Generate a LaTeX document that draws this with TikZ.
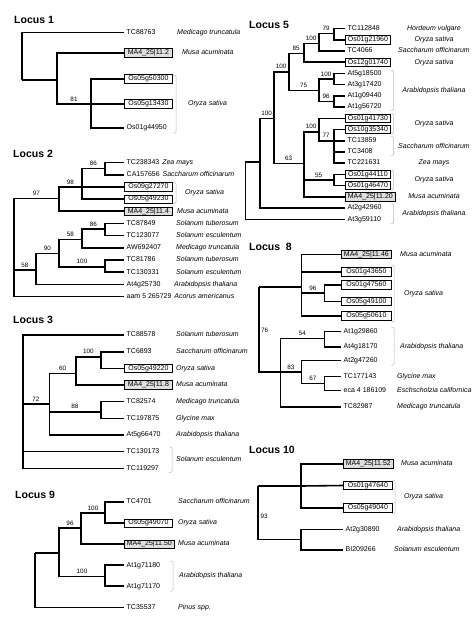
\documentclass[tikz,border=0pt]{standalone}
\usepackage{fontspec}
\setmainfont{Liberation Sans}
\usetikzlibrary{positioning}

\tikzset{
  branch/.style={line width=1.6pt, black},
  leaf/.style={anchor=west, inner xsep=2.5pt, inner ysep=1pt, text height=5pt, text depth=1.4pt, font=\fontsize{7}{8}\selectfont},
  osbox/.style={leaf, draw, line width=0.8pt, minimum width=48pt},
  mabox/.style={osbox, fill=gray!25},
  species/.style={anchor=west, inner sep=0pt, text height=5pt, text depth=1.4pt, font=\fontsize{7}{8}\selectfont\itshape},
  bs/.style={inner sep=1pt, font=\fontsize{6.3}{7}\selectfont},
  title/.style={anchor=west, inner sep=0pt, font=\fontsize{10.5}{12}\selectfont\bfseries},
  bracket/.style={draw=gray!55, line width=0.5pt, rounded corners=1.2pt},
}

\begin{document}
\begin{tikzpicture}[x=1pt,y=-1pt]
\useasboundingbox (0,0) rectangle (474,632);

% Locus 1
\node[title] (t1) at (14,20) {Locus 1};
\node[leaf] (l1a) at (124,32.5) {TC88763};
\node[mabox] (l1b) at (124,53) {MA4\_25|11.2};
\node[osbox] (l1c) at (124,79) {Os05g50300};
\node[osbox] (l1d) at (124,104) {Os05g13430};
\node[leaf] (l1e) at (124,128) {Os01g44950};
\node[species] (s1a) at (177,32.5) {Medicago truncatula};
\node[species] (s1b) at (182,53) {Musa acuminata};
\node[species] (s1c) at (188,104) {Oryza sativa};
\draw[bracket] (173,75) -| (176,133) -- (173,133);
\coordinate (r1) at (22,80);
\coordinate (n1a) at (57,80);
\coordinate (n1b) at (91,104);
\draw[branch] (r1) |- (l1a.west);
\draw[branch] (r1) -- (n1a);
\draw[branch] (n1a) |- (l1b.west);
\draw[branch] (n1a) |- node[bs,pos=0.75,above=1pt]{81} (n1b);
\draw[branch] (n1b) |- (l1c.west);
\draw[branch] (n1b) -- (l1d.west);
\draw[branch] (n1b) |- (l1e.west);

% Locus 2
\node[title] (t2) at (13,154) {Locus 2};
\node[leaf] (l2a) at (124,162.5) {TC238343};
\node[leaf] (l2b) at (124,174.7) {CA157656};
\node[osbox] (l2c) at (124,186.9) {Os09g27270};
\node[osbox] (l2d) at (124,199.1) {Os05g49230};
\node[mabox] (l2e) at (124,211.2) {MA4\_25|11.4};
\node[leaf] (l2f) at (124,223.4) {TC87849};
\node[leaf] (l2g) at (124,235.6) {TC123077};
\node[leaf] (l2h) at (124,247.8) {AW692407};
\node[leaf] (l2i) at (124,260) {TC81786};
\node[leaf] (l2j) at (124,272.2) {TC130331};
\node[leaf] (l2k) at (124,284.3) {At4g25730};
\node[leaf] (l2l) at (124,296.5) {aam 5 265729};
\node[species, right=0pt of l2a] (s2a) {Zea mays};
\node[species, right=0pt of l2b] (s2b) {Saccharum officinarum};
\node[species] (s2c) at (185,193) {Oryza sativa};
\node[species] (s2d) at (177,211.2) {Musa acuminata};
\node[species] (s2e) at (176,223.4) {Solanum tuberosum};
\node[species] (s2f) at (176,235.6) {Solanum esculentum};
\node[species] (s2g) at (176,247.8) {Medicago truncatula};
\node[species] (s2h) at (176,260) {Solanum tuberosum};
\node[species] (s2i) at (176,272.2) {Solanum esculentum};
\node[species] (s2j) at (174,284.3) {Arabidopsis thaliana};
\node[species, right=0pt of l2l] (s2k) {Acorus americanus};
\draw[bracket] (173,182.5) -| (176,203.5) -- (173,203.5);
\coordinate (r2) at (14,198.3);
\coordinate (n2a) at (59,198.3);
\coordinate (n2b) at (81.7,186.9);
\coordinate (n2c) at (105,168.3);
\coordinate (n2e) at (36,270);
\coordinate (n2f) at (59,253.3);
\coordinate (n2g) at (81.7,239.3);
\coordinate (n2h) at (105,229);
\coordinate (n2i) at (105,266.7);
\draw[branch] (r2) |- node[bs,pos=0.75,above=1pt]{97} (n2a);
\draw[branch] (r2) |- node[bs,pos=0.75,above=1pt]{58} (n2e);
\draw[branch] (r2) |- (l2l.west);
\draw[branch] (n2a) |- node[bs,pos=0.75,above=1pt]{98} (n2b);
\draw[branch] (n2a) |- (l2e.west);
\draw[branch] (n2b) |- node[bs,pos=0.75,above=1pt]{86} (n2c);
\draw[branch] (n2b) |- (l2c.west);
\draw[branch] (n2b) |- (l2d.west);
\draw[branch] (n2c) |- (l2a.west);
\draw[branch] (n2c) |- (l2b.west);
\draw[branch] (n2e) |- node[bs,pos=0.75,above=1pt]{90} (n2f);
\draw[branch] (n2e) |- (l2k.west);
\draw[branch] (n2f) |- node[bs,pos=0.75,above=1pt]{58} (n2g);
\draw[branch] (n2f) |- node[bs,pos=0.75,above=1pt]{100} (n2i);
\draw[branch] (n2g) |- node[bs,pos=0.75,above=1pt]{86} (n2h);
\draw[branch] (n2g) |- (l2h.west);
\draw[branch] (n2h) |- (l2f.west);
\draw[branch] (n2h) |- (l2g.west);
\draw[branch] (n2i) |- (l2i.west);
\draw[branch] (n2i) |- (l2j.west);

% Locus 3
\node[title] (t3) at (13,320) {Locus 3};
\node[leaf] (l3a) at (124,335) {TC88578};
\node[leaf] (l3b) at (124,351.7) {TC6893};
\node[osbox] (l3c) at (124,368.3) {Os05g49220};
\node[mabox] (l3d) at (124,385) {MA4\_25|11.8};
\node[leaf] (l3e) at (124,401.6) {TC82574};
\node[leaf] (l3f) at (124,418.3) {TC197875};
\node[leaf] (l3g) at (124,435) {At5g66470};
\node[leaf] (l3h) at (124,451.6) {TC130173};
\node[leaf] (l3i) at (124,468.3) {TC119297};
\node[species] (s3a) at (176,335) {Solanum tuberosum};
\node[species] (s3b) at (176,351.7) {Saccharum officinarum};
\node[species] (s3c) at (176,368.3) {Oryza sativa};
\node[species] (s3d) at (176,385) {Musa acuminata};
\node[species] (s3e) at (176,401.6) {Medicago truncatula};
\node[species] (s3f) at (176,418.3) {Glycine max};
\node[species] (s3g) at (176,435) {Arabidopsis thaliana};
\node[species] (s3h) at (176,460) {Solanum esculentum};
\draw[bracket] (169,447) -| (172,472.5) -- (169,472.5);
\coordinate (r3) at (22.7,404);
\coordinate (n3a) at (49.3,404);
\coordinate (n3b) at (76,373.3);
\coordinate (n3c) at (100.7,356.7);
\coordinate (n3d) at (100.7,411.7);
\draw[branch] (r3) |- (l3a.west);
\draw[branch] (r3) -- node[bs,midway,above=1pt]{72} (n3a);
\draw[branch] (r3) |- (l3h.west);
\draw[branch] (r3) |- (l3i.west);
\draw[branch] (n3a) |- node[bs,pos=0.75,above=1pt]{60} (n3b);
\draw[branch] (n3a) |- node[bs,pos=0.75,above=1pt]{88} (n3d);
\draw[branch] (n3a) |- (l3g.west);
\draw[branch] (n3b) |- node[bs,pos=0.75,above=1pt]{100} (n3c);
\draw[branch] (n3b) |- (l3d.west);
\draw[branch] (n3c) |- (l3b.west);
\draw[branch] (n3c) |- (l3c.west);
\draw[branch] (n3d) |- (l3e.west);
\draw[branch] (n3d) |- (l3f.west);

% Locus 9
\node[title] (t9) at (15,494.7) {Locus 9};
\node[leaf] (l9a) at (124,502) {TC4701};
\node[osbox] (l9b) at (124,523.1) {Os05g49070};
\node[mabox] (l9c) at (124,544.1) {MA4\_25|11.50};
\node[leaf] (l9d) at (124,565.2) {At1g71180};
\node[leaf] (l9e) at (124,586.2) {At1g71170};
\node[leaf] (l9f) at (124,607.3) {TC35537};
\node[species] (s9a) at (178,502) {Saccharum officinarum};
\node[species] (s9b) at (178,523.1) {Oryza sativa};
\node[species] (s9c) at (178,544.1) {Musa acuminata};
\node[species] (s9d) at (179,575.7) {Arabidopsis thaliana};
\node[species] (s9e) at (178,607.3) {Pinus spp.};
\draw[bracket] (170,561) -| (173,591) -- (170,591);
\coordinate (r9) at (35,553);
\coordinate (n9a) at (59,553);
\coordinate (n9b) at (81,528);
\coordinate (n9c) at (105,513);
\coordinate (n9d) at (105,576.3);
\draw[branch] (r9) -- (n9a);
\draw[branch] (r9) |- (l9f.west);
\draw[branch] (n9a) |- node[bs,pos=0.75,above=1pt]{96} (n9b);
\draw[branch] (n9a) |- node[bs,pos=0.75,above=1pt]{100} (n9d);
\draw[branch] (n9b) |- node[bs,pos=0.75,above=1pt]{100} (n9c);
\draw[branch] (n9b) |- (l9c.west);
\draw[branch] (n9c) |- (l9a.west);
\draw[branch] (n9c) |- (l9b.west);
\draw[branch] (n9d) |- (l9d.west);
\draw[branch] (n9d) |- (l9e.west);

% Locus 5
\node[title] (t5) at (249,25) {Locus 5};
\node[leaf] (l5a) at (345,28.5) {TC112848};
\node[osbox, minimum width=45pt] (l5b) at (345,39.7) {Os01g21960};
\node[leaf] (l5c) at (345,50.9) {TC4066};
\node[osbox, minimum width=45pt] (l5d) at (345,62.2) {Os12g01740};
\node[leaf] (l5e) at (345,73.4) {At5g18500};
\node[leaf] (l5f) at (345,84.6) {At3g17420};
\node[leaf] (l5g) at (345,95.8) {At1g09440};
\node[leaf] (l5h) at (345,107) {At1g56720};
\node[osbox, minimum width=45pt] (l5i) at (345,118.3) {Os01g41730};
\node[osbox, minimum width=45pt] (l5j) at (345,129.5) {Os10g35340};
\node[leaf] (l5k) at (345,140.7) {TC13859};
\node[leaf] (l5l) at (345,151.9) {TC3408};
\node[leaf] (l5m) at (345,163.1) {TC221631};
\node[osbox, minimum width=45pt] (l5n) at (345,174.4) {Os01g44110};
\node[osbox, minimum width=45pt] (l5o) at (345,185.6) {Os01g46470};
\node[mabox, minimum width=45pt] (l5p) at (345,196.8) {MA4\_25|11.20};
\node[leaf] (l5q) at (345,208) {At2g42960};
\node[leaf] (l5r) at (345,219.3) {At3g59110};
\node[species, anchor=center] (s5a) at (434,28.5) {Hordeum vulgare};
\node[species, anchor=center] (s5b) at (434,39.7) {Oryza sativa};
\node[species, anchor=center] (s5c) at (434,50.9) {Saccharum officinarum};
\node[species, anchor=center] (s5d) at (434,62.2) {Oryza sativa};
\node[species, anchor=center] (s5e) at (434,90.2) {Arabidopsis thaliana};
\node[species, anchor=center] (s5f) at (434,123.9) {Oryza sativa};
\node[species, anchor=center] (s5g) at (434,146.3) {Saccharum officinarum};
\node[species, anchor=center] (s5h) at (434,163.1) {Zea mays};
\node[species, anchor=center] (s5i) at (434,180) {Oryza sativa};
\node[species, anchor=center] (s5j) at (434,196.8) {Musa acuminata};
\node[species, anchor=center] (s5k) at (434,213.7) {Arabidopsis thaliana};
\draw[bracket] (390.5,70) -| (393.5,110.5) -- (390.5,110.5);
\draw[bracket] (390.5,113.5) -| (393.5,134) -- (390.5,134);
\draw[bracket] (390.5,136.5) -| (393.5,155.5) -- (390.5,155.5);
\draw[bracket] (390.5,170) -| (393.5,190) -- (390.5,190);
\draw[bracket] (390.5,204) -| (393.5,223.5) -- (390.5,223.5);
\coordinate (r5) at (245.3,161.7);
\coordinate (n5a) at (259.7,161.7);
\coordinate (n5b) at (273.7,118.3);
\coordinate (n5c) at (288.7,71.7);
\coordinate (n5d) at (303.7,53.3);
\coordinate (n5e) at (318.7,43.3);
\coordinate (n5f) at (333.7,33.3);
\coordinate (n5g) at (318.7,90.3);
\coordinate (n5h) at (333.7,79);
\coordinate (n5m) at (333.7,101.4);
\coordinate (n5i) at (303.7,163.3);
\coordinate (n5j) at (318.7,131.7);
\coordinate (n5k) at (333.7,140.7);
\coordinate (n5l) at (333.7,180);
\draw[branch] (r5) -- (n5a);
\draw[branch] (r5) |- (l5r.west);
\draw[branch] (n5a) |- node[bs,pos=0.75,above=1pt]{100} (n5b);
\draw[branch] (n5a) |- (l5q.west);
\draw[branch] (n5b) |- node[bs,pos=0.75,above=1pt]{100} (n5c);
\draw[branch] (n5b) |- node[bs,pos=0.75,above=1pt]{63} (n5i);
\draw[branch] (n5c) |- node[bs,pos=0.75,above=1pt]{85} (n5d);
\draw[branch] (n5c) |- node[bs,pos=0.75,above=1pt]{75} (n5g);
\draw[branch] (n5d) |- node[bs,pos=0.75,above=1pt]{100} (n5e);
\draw[branch] (n5d) |- (l5d.west);
\draw[branch] (n5e) |- node[bs,pos=0.75,above=1pt]{79} (n5f);
\draw[branch] (n5e) |- (l5c.west);
\draw[branch] (n5f) |- (l5a.west);
\draw[branch] (n5f) |- (l5b.west);
\draw[branch] (n5g) |- node[bs,pos=0.75,above=1pt]{100} (n5h);
\draw[branch] (n5g) |- node[bs,pos=0.75,above=1pt]{96} (n5m);
\draw[branch] (n5h) |- (l5e.west);
\draw[branch] (n5h) |- (l5f.west);
\draw[branch] (n5m) |- (l5g.west);
\draw[branch] (n5m) |- (l5h.west);
\draw[branch] (n5i) |- node[bs,pos=0.75,above=1pt]{100} (n5j);
\draw[branch] (n5i) |- node[bs,pos=0.75,above=1pt]{55} (n5l);
\draw[branch] (n5i) |- (l5p.west);
\draw[branch] (n5j) |- (l5i.west);
\draw[branch] (n5j) |- node[bs,pos=0.75,above=1pt]{77} (n5k);
\draw[branch] (n5k) |- (l5j.west);
\draw[branch] (n5k) |- (l5k.west);
\draw[branch] (n5k) |- (l5l.west);
\draw[branch] (n5k) |- (l5m.west);
\draw[branch] (n5l) |- (l5n.west);
\draw[branch] (n5l) |- (l5o.west);

% Locus 8
\node[title] (t8) at (249,246.5) {Locus\ \ 8};
\node[mabox, minimum width=50pt] (l8a) at (341,254.5) {MA4\_25|11.46};
\node[osbox, minimum width=50pt] (l8b) at (341,271.7) {Os01g43650};
\node[osbox, minimum width=50pt] (l8c) at (341,285) {Os01g47560};
\node[osbox, minimum width=50pt] (l8d) at (341,301.3) {Os05g49100};
\node[osbox, minimum width=50pt] (l8e) at (341,316) {Os05g50610};
\node[leaf] (l8f) at (341,331.5) {At1g29860};
\node[leaf] (l8g) at (341,346.7) {At4g18170};
\node[leaf] (l8h) at (341,360.5) {At2g47260};
\node[leaf] (l8i) at (341,376.5) {TC177143};
\node[leaf] (l8j) at (341,390.5) {eca 4 186109};
\node[leaf] (l8k) at (341,406.7) {TC82987};
\node[species] (s8a) at (400,254.5) {Musa acuminata};
\node[species] (s8b) at (404,293.3) {Oryza sativa};
\node[species] (s8c) at (400,346.7) {Arabidopsis thaliana};
\node[species] (s8d) at (397,376.5) {Glycine max};
\node[species] (s8e) at (397,390.5) {Eschscholzia californica};
\node[species] (s8f) at (397,406.7) {Medicago truncatula};
\draw[bracket] (391,265) -| (394,321.7) -- (391,321.7);
\draw[bracket] (391,327) -| (394,365) -- (391,365);
\coordinate (r8) at (258.7,286.7);
\coordinate (n8a) at (301.3,286.7);
\coordinate (n8b) at (280.3,372);
\coordinate (n8c) at (324.3,293);
\coordinate (n8d) at (324.3,338.3);
\coordinate (n8e) at (301.3,372);
\coordinate (n8f) at (324.3,383.3);
\draw[branch] (r8) -- (n8a);
\draw[branch] (r8) |- (n8b);
\node[bs, anchor=west] (bs8) at (260,330) {76};
\draw[branch] (n8a) |- (l8a.west);
\draw[branch] (n8a) |- (l8b.west);
\draw[branch] (n8a) |- node[bs,pos=0.75,above=1pt]{96} (n8c);
\draw[branch] (n8a) |- (l8e.west);
\draw[branch] (n8c) |- (l8c.west);
\draw[branch] (n8c) |- (l8d.west);
\draw[branch] (n8b) |- node[bs,pos=0.75,above=1pt]{54} (n8d);
\draw[branch] (n8b) -- node[bs,midway,above=1pt]{83} (n8e);
\draw[branch] (n8b) |- (l8k.west);
\draw[branch] (n8d) |- (l8f.west);
\draw[branch] (n8d) |- (l8g.west);
\draw[branch] (n8e) |- (l8h.west);
\draw[branch] (n8e) |- node[bs,pos=0.75,above=1pt]{67} (n8f);
\draw[branch] (n8f) |- (l8i.west);
\draw[branch] (n8f) |- (l8j.west);

% Locus 10
\node[title] (t10) at (249,450) {Locus 10};
\node[mabox, minimum width=49pt] (l10a) at (343,464) {MA4\_25|11.52};
\node[osbox, minimum width=49pt] (l10b) at (343,485.5) {Os01g47640};
\node[osbox, minimum width=49pt] (l10c) at (343,507.7) {Os05g49040};
\node[leaf] (l10d) at (343,529.3) {At2g30890};
\node[leaf] (l10e) at (343,550) {BI209266};
\node[species] (s10a) at (401,464) {Musa acuminata};
\node[species] (s10b) at (404,496.6) {Oryza sativa};
\node[species] (s10c) at (397,529.3) {Arabidopsis thaliana};
\node[species] (s10d) at (394,550) {Solanum esculentum};
\draw[bracket] (392,480) -| (395,513.3) -- (392,513.3);
\coordinate (r10) at (257.7,486);
\coordinate (n10a) at (301,486);
\coordinate (n10b) at (301,539.3);
\draw[branch] (r10) -- (n10a);
\draw[branch] (r10) |- (n10b);
\node[bs, anchor=west] (bs10) at (259.5,516) {93};
\draw[branch] (n10a) |- (l10a.west);
\draw[branch] (n10a) -- (l10b.west);
\draw[branch] (n10a) |- (l10c.west);
\draw[branch] (n10b) |- (l10d.west);
\draw[branch] (n10b) |- (l10e.west);
\end{tikzpicture}
\end{document}
